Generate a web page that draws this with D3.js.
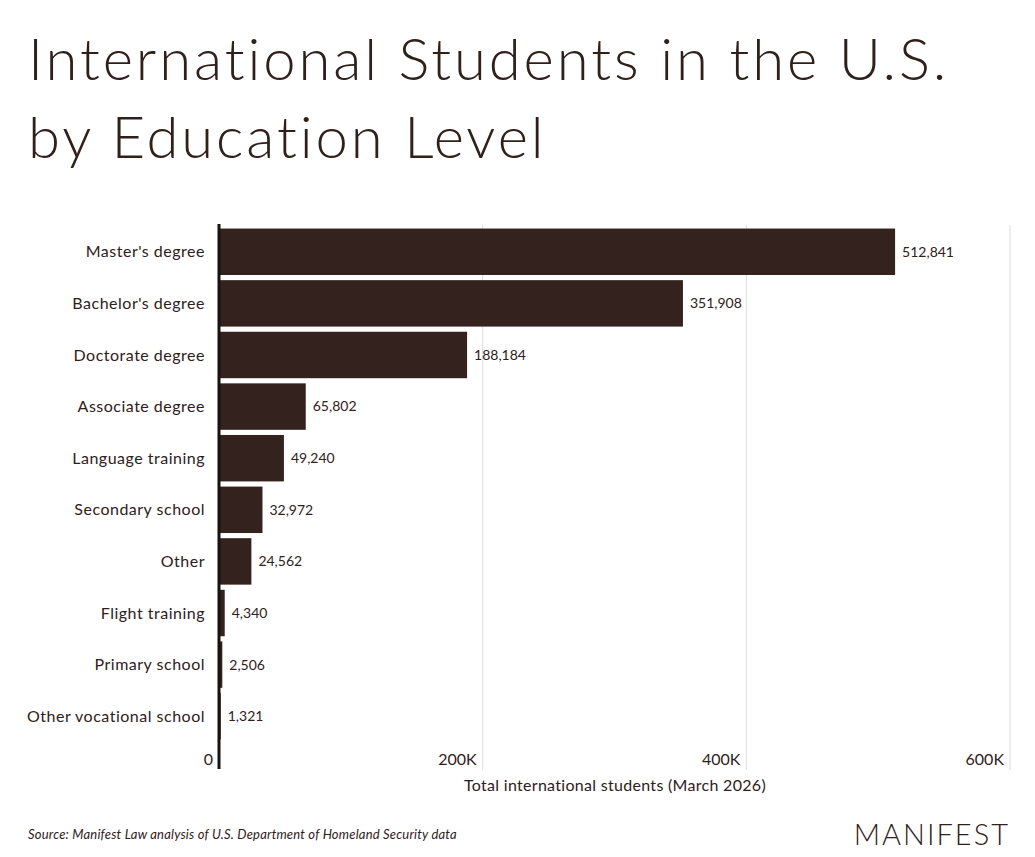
<!DOCTYPE html>
<html>
<head>
<meta charset="utf-8">
<script src="https://cdn.jsdelivr.net/npm/d3@7"></script>
<style>
  body { margin: 0; background: #fff; }
  text { font-family: Lato, "Open Sans", sans-serif; fill: #2f201b; font-variant-ligatures: none; }
</style>
</head>
<body>
<svg id="chart" width="1035" height="857"></svg>
<script>
const categories = ["Master's degree", "Bachelor's degree", "Doctorate degree", "Associate degree",
  "Language training", "Secondary school", "Other", "Flight training", "Primary school", "Other vocational school"];
const students = [512841, 351908, 188184, 65802, 49240, 32972, 24562, 4340, 2506, 1321];
const tickValues = [0, 200000, 400000, 600000];
const tickLabels = ["0", "200K", "400K", "600K"];

const barColor = "#33221d";
const svg = d3.select("#chart");

// title
svg.append("text").attr("x", 28).attr("y", 80)
  .style("font-size", "58px").style("font-weight", 300).style("letter-spacing", "2.9px")
  .text("International Students in the U.S.");
svg.append("text").attr("x", 28).attr("y", 158)
  .style("font-size", "58px").style("font-weight", 300).style("letter-spacing", "2.9px")
  .text("by Education Level");

const x = d3.scaleLinear().domain([0, 600000]).range([219, 1010]);
const y = d3.scaleBand().domain(categories).range([227, 741]).paddingInner(0.1).paddingOuter(0.03);

// gridlines
svg.append("g").selectAll("line")
  .data(tickValues.slice(1))
  .enter().append("line")
    .attr("x1", d => x(d)).attr("x2", d => x(d))
    .attr("y1", 225).attr("y2", 770)
    .attr("stroke", "#dcdcdc").attr("stroke-width", 1);

// bars
svg.append("g").selectAll("rect")
  .data(students)
  .enter().append("rect")
    .attr("x", x(0))
    .attr("y", (d, i) => y(categories[i]))
    .attr("width", d => x(d) - x(0))
    .attr("height", y.bandwidth())
    .attr("fill", barColor);

// value labels
svg.append("g").selectAll("text")
  .data(students)
  .enter().append("text")
    .attr("x", d => x(d) + 7)
    .attr("y", (d, i) => y(categories[i]) + y.bandwidth() / 2)
    .attr("dy", "0.35em")
    .style("font-size", "14px")
    .text(d => d3.format(",")(d));

// category labels
svg.append("g").selectAll("text")
  .data(categories)
  .enter().append("text")
    .attr("x", 205)
    .attr("y", d => y(d) + y.bandwidth() / 2)
    .attr("dy", "0.35em")
    .attr("text-anchor", "end")
    .style("font-size", "16px").style("letter-spacing", "0.5px")
    .text(d => d);

// axis line
svg.append("line")
  .attr("x1", x(0)).attr("x2", x(0))
  .attr("y1", 224).attr("y2", 769)
  .attr("stroke", "#1a1210").attr("stroke-width", 3);

// tick labels
svg.append("g").selectAll("text")
  .data(tickValues)
  .enter().append("text")
    .attr("x", d => x(d) - 6)
    .attr("y", 765)
    .attr("text-anchor", "end")
    .style("font-size", "16px")
    .text((d, i) => tickLabels[i]);

svg.append("text").attr("x", 615).attr("y", 791)
  .attr("text-anchor", "middle").style("font-size", "16px").style("letter-spacing", "0.3px")
  .text("Total international students (March 2026)");

svg.append("text").attr("x", 28).attr("y", 839)
  .style("font-size", "13px").style("font-style", "italic").style("letter-spacing", "0.2px")
  .text("Source: Manifest Law analysis of U.S. Department of Homeland Security data");

svg.append("text").attr("x", 1010).attr("y", 845)
  .attr("text-anchor", "end")
  .style("font-size", "29px").style("font-weight", 300).style("letter-spacing", "2px")
  .text("MANIFEST");
</script>
</body>
</html>
